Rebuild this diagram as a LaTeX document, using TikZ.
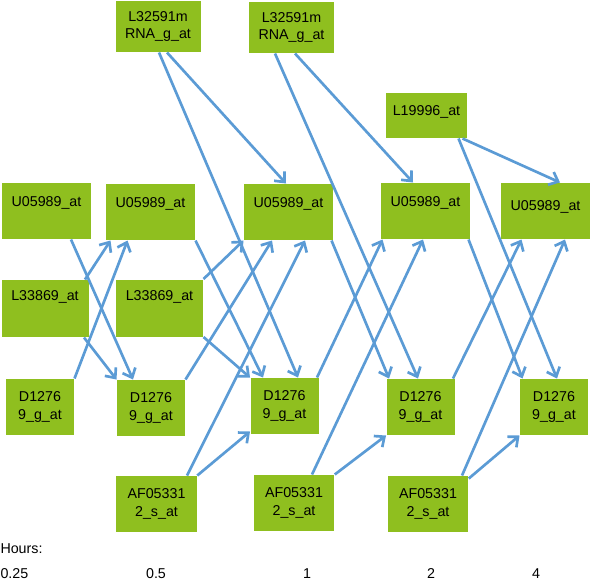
\documentclass[tikz,border=0pt]{standalone}
\usepackage{fontspec}
\setmainfont{Liberation Sans}
\usetikzlibrary{arrows.meta,calc}

\definecolor{genegreen}{RGB}{143,191,31}
\definecolor{linkblue}{RGB}{91,155,213}

\tikzset{every picture/.style={line width=0.75pt}}
\tikzset{
  gene/.style={fill=genegreen, inner sep=0pt, font=\fontsize{10.7}{13.1}\selectfont},
  ubox/.style={gene, minimum width=66.75pt, minimum height=42pt, text height=7.7pt, text depth=14pt},
  lbox/.style={gene, minimum width=65.25pt, minimum height=42.75pt, text height=7.7pt, text depth=19.5pt},
  qbox/.style={gene, minimum width=60.75pt, minimum height=33.75pt, text height=7.7pt, text depth=7.5pt},
  dbox/.style={gene, align=center, minimum width=51pt, minimum height=42pt},
  abox/.style={gene, align=center, minimum width=60.4pt, minimum height=42pt},
  rbox/.style={gene, align=center, minimum width=63.75pt, minimum height=38.25pt},
  link/.style={draw=linkblue, line width=2pt, -{Straight Barb[length=6pt,width=10.5pt]}},
  hour/.style={inner sep=0pt, font=\fontsize{10.7}{13.1}\selectfont}
}

\begin{document}
\begin{tikzpicture}[x=0.75pt,y=0.75pt,yscale=-1,xscale=1]
	\useasboundingbox (0,0) rectangle (591,582);
	
	%Shape: Rectangle [top row]
	\node[rbox] (R1) at (158,26.5) {L32591m\\RNA\_g\_at};
	\node[rbox] (R2) at (291.5,27.5) {L32591m\\RNA\_g\_at};
	\node[qbox] (Q3) at (426.5,115.5) {L19996\_at};
	%Shape: Rectangle [U05989 row]
	\node[ubox] (U0) at (46.5,211) {U05989\_at};
	\node[ubox] (U1) at (150.5,212) {U05989\_at};
	\node[ubox] (U2) at (288.5,212) {U05989\_at};
	\node[ubox] (U3) at (425.5,211) {U05989\_at};
	\node[ubox, text depth=9pt] (U4) at (545.5,211) {U05989\_at};
	%Shape: Rectangle [L33869 row]
	\node[lbox] (L0) at (45,308.5) {L33869\_at};
	\node[lbox] (L1) at (159.5,308) {L33869\_at};
	%Shape: Rectangle [D1276 row]
	\node[dbox] (D0) at (40,407) {D1276\\9\_g\_at};
	\node[dbox] (D1) at (151,408) {D1276\\9\_g\_at};
	\node[dbox] (D2) at (284.5,406) {D1276\\9\_g\_at};
	\node[dbox] (D3) at (420.5,407) {D1276\\9\_g\_at};
	\node[dbox] (D4) at (554,407) {D1276\\9\_g\_at};
	%Shape: Rectangle [AF05331 row]
	\node[abox] (A1) at (156.5,504) {AF05331\\2\_s\_at};
	\node[abox] (A2) at (294,503) {AF05331\\2\_s\_at};
	\node[abox] (A3) at (428,504) {AF05331\\2\_s\_at};
	
	%Straight Lines [0.25 -> 0.5]
	\draw[link] ($(U0.south)+(24.5,0)$) -- ($(D1.north)+(-18,0)$);
	\draw[link] ($(L0.south east)+(-5,0)$) -- (D1.north west);
	\draw[link] ($(L0.north east)+(-4,0)$) -- ($(U1.south west)+(5,0)$);
	\draw[link] (D0.north east) -- ($(U1.south west)+(22,0)$);
	
	%Straight Lines [0.5 -> 1]
	\draw[link] ($(R1.south)+(9,0)$) -- ($(U2.north)+(-2.5,0)$);
	\draw[link] ($(R1.south)+(1,0)$) -- ($(D2.north)+(13.5,0)$);
	\draw[link] (U1.south east) -- ($(D2.north)+(-21.5,0)$);
	\draw[link] (L1.north east) -- (U2.south west);
	\draw[link] (L1.south east) -- (D2.north west);
	\draw[link] (D1.north east) -- ($(U2.south)+(-16.5,0)$);
	\draw[link] ($(A1.north)+(30.5,0)$) -- ($(U2.south)+(16.5,0)$);
	\draw[link] (A1.north east) -- ($(D2.south west)+(0,-3)$);
	
	%Straight Lines [1 -> 2]
	\draw[link] ($(R2.south)+(3.5,0)$) -- ($(U3.north)+(-12.5,0)$);
	\draw[link] ($(R2.south)+(-16.5,0)$) -- ($(D3.north)+(-2.5,0)$);
	\draw[link] ($(U2.south east)+(-2,0)$) -- ($(D3.north west)+(3,0)$);
	\draw[link] ($(D2.north east)+(-2,0)$) -- ($(U3.south west)+(2,0)$);
	\draw[link] ($(A2.north)+(18,0)$) -- ($(U3.south)+(-2.5,0)$);
	\draw[link] (A2.north east) -- (D3.south west);
	
	%Straight Lines [2 -> 4]
	\draw[link] ($(Q3.south east)+(-5,0)$) -- ($(U4.north)+(14.5,0)$);
	\draw[link] ($(Q3.south east)+(-9,0)$) -- ($(D4.north)+(3,0)$);
	\draw[link] ($(U3.south east)+(-2,0)$) -- ($(D4.north west)+(3,0)$);
	\draw[link] ($(D3.north east)+(-2,0)$) -- ($(U4.south west)+(21,0)$);
	\draw[link] ($(A3.north)+(34,0)$) -- ($(U4.south)+(19.5,0)$);
	\draw[link] ($(A3.north east)+(0,3)$) -- (D4.south west);
	
	% Text Node
	\node[hour, anchor=west] (hours) at (0,549) {Hours:};
	% Text Node
	\node[hour, anchor=west] (t025) at (0,574) {0.25};
	\node[hour] (t05) at (156,574) {0.5};
	\node[hour] (t1) at (307,574) {1};
	\node[hour] (t2) at (431,574) {2};
	\node[hour] (t4) at (536,574) {4};
	
\end{tikzpicture}
\end{document}
